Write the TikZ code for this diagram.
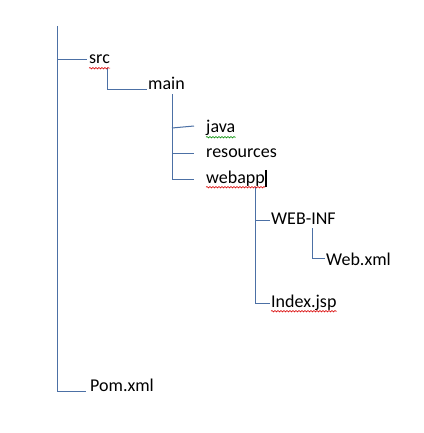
\documentclass[tikz,border=0pt]{standalone}
\usepackage{fontspec}
\setmainfont{Carlito}
\usetikzlibrary{calc,positioning,decorations.pathmorphing}
\definecolor{treeblue}{RGB}{76,112,165}
\tikzset{
item/.style={anchor=west, inner sep=0pt, text height=12pt, text depth=4pt,
  font=\fontsize{18}{20}\selectfont}, % folder and file names
tree/.style={draw=treeblue, line width=1pt}, % the connecting lines
spell/.style={draw=red!85!black, line width=0.6pt,
  decorate, decoration={snake, segment length=3pt, amplitude=0.7pt}}, % wavy marks
}

\begin{document}
\begin{tikzpicture}[x=1pt,y=-1pt]
   \useasboundingbox (0,0) rectangle (423,433);
   \coordinate (root) at (57,26);
   \node[item] (src)    at (89,60)   {src};
   \node[item] (main)   at (148,86)  {main};
   \node[item] (java)   at (206,128) {java};
   \node[item] (res)    at (206,153) {resources};
   \node[item] (webapp) at (206,179) {webapp};
   \node[item] (webinf) at (271,220) {WEB-INF};
   \node[item] (webxml) at (326,261) {Web.xml};
   \node[item] (index)  at (271,303) {Index.jsp};
   \node[item] (pom)    at (90,387)  {Pom.xml};
   % tree lines
   \draw[tree] (root) |- ([xshift=-4pt]pom.base west);
   \draw[tree] (root |- src.west) -- ([xshift=-2pt]src.west);
   \draw[tree] ([xshift=-3pt]src.south east) |- ([xshift=-1pt]main.base west);
   \draw[tree] ([xshift=24pt]main.south west) coordinate (mtop)
      |- ([xshift=-12pt]webapp.west);
   \draw[tree] (mtop |- java.west) -- ([xshift=-12pt,yshift=2pt]java.west);
   \draw[tree] (mtop |- res.west) -- ([xshift=-12pt]res.west);
   \draw[tree] ([xshift=-10pt]webapp.south east) coordinate (wtop)
      |- ([xshift=-1pt]index.west);
   \draw[tree] (wtop |- webinf.west) -- ([xshift=-1pt]webinf.west);
   \draw[tree] ([xshift=-23pt]webinf.south east) |- ([xshift=-1pt,yshift=3pt]webxml.west);
   % marks under the words
   \draw[spell] (src.south west) -- (src.south east);
   \draw[spell, draw=green!55!black] ([yshift=-1pt]java.south west) -- ([yshift=-1pt]java.south east);
   \draw[spell] (webapp.south west) -- (webapp.south east);
   \draw[spell] (index.south west) -- (index.south east);
   \draw[line width=1.3pt] ([xshift=1pt,yshift=1pt]webapp.north east) -- ([xshift=1pt]webapp.south east);
\end{tikzpicture}
\end{document}
